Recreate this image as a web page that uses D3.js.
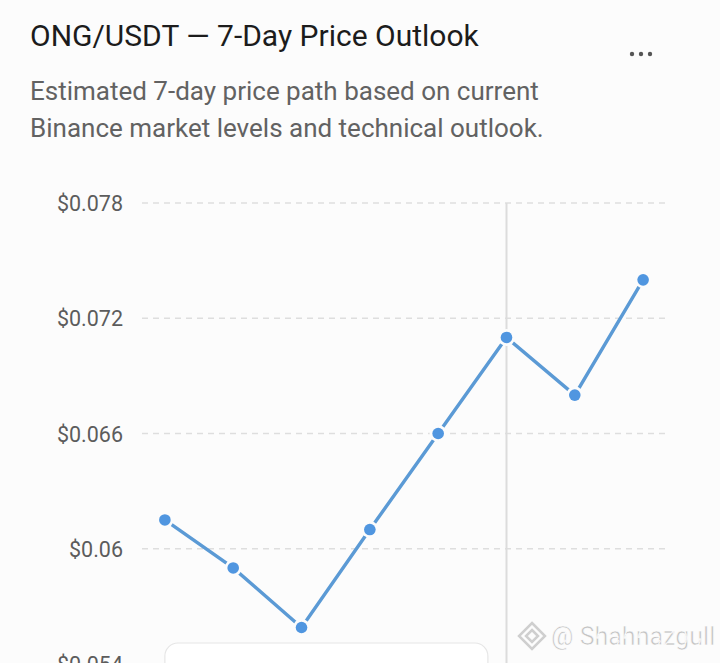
<!DOCTYPE html>
<html>
<head>
<meta charset="utf-8">
<script src="https://cdn.jsdelivr.net/npm/d3@7"></script>
<style>
  html, body { margin: 0; padding: 0; background: #fcfcfc; overflow: hidden; }
  #main { width: 720px; height: 663px; }
  text { font-family: Roboto, "Noto Sans", sans-serif; }
</style>
</head>
<body>
<div id="main"></div>
<script>
// chart data
const days = ["Today", "Day 1", "Day 2", "Day 3", "Day 4", "Day 5", "Day 6", "Day 7"];
const prices = [0.0615, 0.0590, 0.0559, 0.0610, 0.0660, 0.0710, 0.0680, 0.0740];
const yTicks = [0.054, 0.06, 0.066, 0.072, 0.078];
const hoverIndex = 5;

const title = "ONG/USDT \u2014 7-Day Price Outlook";
const subtitle = ["Estimated 7-day price path based on current",
                  "Binance market levels and technical outlook."];

function drawChart() {
    const width = 720, height = 663;
    const svg = d3.select("#main").append("svg")
        .attr("width", width)
        .attr("height", height);

    svg.append("rect").attr("width", width).attr("height", height).attr("fill", "#fcfcfc");

    // header
    svg.append("text")
        .attr("x", 30).attr("y", 46)
        .attr("font-size", 30)
        .attr("fill", "#1c1c1c")
        .text(title);

    svg.selectAll(".sub").data(subtitle).enter().append("text")
        .attr("class", "sub")
        .attr("x", 30).attr("y", (d, i) => 100 + i * 37)
        .attr("font-size", 26)
        .attr("fill", "#626262")
        .text(d => d);

    // menu dots
    svg.selectAll(".menu").data([0, 1, 2]).enter().append("circle")
        .attr("cx", d => 632 + d * 9).attr("cy", 54).attr("r", 2.2)
        .attr("fill", "#555");

    // scales
    const x = d3.scalePoint().domain(days).range([142, 666]).padding(0.335);
    const y = d3.scaleLinear().domain([0.054, 0.078]).range([664, 203]);

    // grid
    svg.append("g")
        .selectAll("line").data(yTicks).enter().append("line")
        .attr("x1", 142).attr("x2", 666)
        .attr("y1", d => y(d)).attr("y2", d => y(d))
        .attr("stroke", "#dedede")
        .attr("stroke-width", 1.5)
        .attr("stroke-dasharray", "6 5");

    // y axis labels
    const yAxis = d3.axisLeft(y).tickValues(yTicks).tickSize(0).tickPadding(0)
        .tickFormat(d => "$" + d3.format("~g")(d));
    const ag = svg.append("g").attr("transform", "translate(123,0)").call(yAxis);
    ag.select(".domain").remove();
    ag.selectAll("text")
        .attr("font-size", 21.5)
        .attr("fill", "#5c5c5c")
        .attr("font-family", "Roboto, 'Noto Sans', sans-serif")
        .attr("dy", "0.35em");

    // hover crosshair
    svg.append("line")
        .attr("x1", x(days[hoverIndex])).attr("x2", x(days[hoverIndex]))
        .attr("y1", y(0.078)).attr("y2", height)
        .attr("stroke", "#dcdcdc").attr("stroke-width", 2);

    // line
    const line = d3.line().x((d, i) => x(days[i])).y(d => y(d));
    svg.append("path")
        .datum(prices)
        .attr("d", line)
        .attr("fill", "none")
        .attr("stroke", "#5b9ad5")
        .attr("stroke-width", 3.4);

    // points: white halo then blue dot
    const pts = svg.selectAll(".pt").data(prices).enter().append("g")
        .attr("class", "pt")
        .attr("transform", (d, i) => `translate(${x(days[i])},${y(d)})`);
    pts.append("circle").attr("r", 8.5).attr("fill", "#fcfcfc");
    pts.append("circle").attr("r", 5.8).attr("fill", "#5096e0");

    // tooltip box (cut off at bottom)
    svg.append("rect")
        .attr("x", x(days[0])).attr("y", 643)
        .attr("width", 323).attr("height", 60)
        .attr("rx", 13)
        .attr("fill", "#ffffff")
        .attr("stroke", "#e6e6e6")
        .attr("stroke-width", 1.2);

    // watermark
    const wm = svg.append("g").attr("transform", "translate(532,636)");
    wm.append("path")
        .attr("d", "M0,-13 L13,0 L0,13 L-13,0 Z M0,-6 L6,0 L0,6 L-6,0 Z")
        .attr("fill", "none").attr("stroke", "#cfcfcf").attr("stroke-width", 2.5);
    wm.append("text")
        .attr("x", 19).attr("y", 9)
        .attr("font-size", 25)
        .attr("font-family", "'Open Sans', 'Noto Sans', sans-serif")
        .attr("fill", "#c4c4c4")
        .attr("stroke", "#ffffff").attr("stroke-width", 0.6)
        .text("@ Shahnazgull");
}

document.addEventListener("DOMContentLoaded", drawChart);
</script>
</body>
</html>
